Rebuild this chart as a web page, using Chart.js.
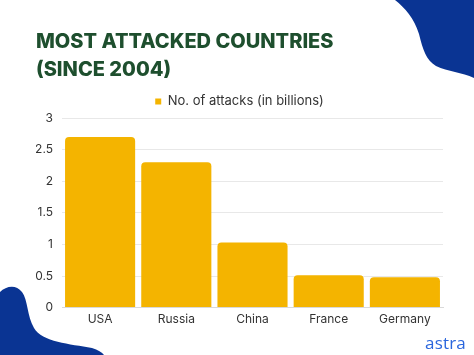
<!DOCTYPE html>
<html>
<head>
<meta charset="utf-8">
<script src="https://cdn.jsdelivr.net/npm/chart.js@4/dist/chart.umd.min.js"></script>
<style>
  html, body { margin: 0; padding: 0; background: #ffffff; }
  #wrap { position: relative; width: 474px; height: 355px; overflow: hidden; background: #fff; }
  #deco { position: absolute; left: 0; top: 0; }
  #c { position: absolute; left: 0; top: 0; }
  #logo { position: absolute; left: 425px; top: 333px; font-family: "Open Sans", sans-serif; font-size: 17px; color: #2a66dd; letter-spacing: 0.2px; line-height: 20px; }
</style>
</head>
<body>
<div id="wrap">
  <svg id="deco" width="474" height="355" viewBox="0 0 474 355">
    <path d="M395 0 C405 8 414 18 419 34 C423 50 426 60 436 66 C448 72 462 72 474 78 L474 0 Z" fill="#0a3493"/>
    <path d="M0 292 C6 286 16 284 22 292 C28 300 27 316 34 328 C42 342 70 344 92 348 C98 350 102 352 104 355 L0 355 Z" fill="#0a3493"/>
  </svg>
  <canvas id="c" width="474" height="355"></canvas>
  <div id="logo">astra</div>
</div>
<script>
const titleLines = ["MOST ATTACKED COUNTRIES", "(SINCE 2004)"];
const seriesName = "No. of attacks (in billions)";
const categories = ["USA", "Russia", "China", "France", "Germany"];
const attacks = [2.7, 2.3, 1.03, 0.51, 0.48];
const yTicks = [0, 0.5, 1, 1.5, 2, 2.5, 3];

const FONT = "Inter, 'Open Sans', sans-serif";

new Chart(document.getElementById('c'), {
  type: 'bar',
  data: {
    labels: categories,
    datasets: [{
      label: seriesName,
      data: attacks,
      backgroundColor: '#f4b400',
      borderRadius: 4,
      borderSkipped: 'start',
      categoryPercentage: 1.0,
      barPercentage: 0.92
    }]
  },
  options: {
    responsive: false,
    animation: false,
    devicePixelRatio: 1,
    layout: { padding: { left: 36, right: 31, top: 28, bottom: 23 } },
    plugins: {
      title: {
        display: true,
        text: titleLines,
        align: 'start',
        color: '#1e4f2e',
        font: { family: FONT, size: 20, weight: '800', lineHeight: 1.4 },
        padding: { top: 0, bottom: 4 }
      },
      legend: {
        display: true,
        labels: {
          boxWidth: 6, boxHeight: 6,
          color: '#333333',
          font: { family: FONT, size: 13 },
          padding: 7
        }
      },
      tooltip: { enabled: false }
    },
    scales: {
      x: {
        grid: { display: false, drawTicks: false },
        border: { display: true, color: '#d9d9d9' },
        ticks: { color: '#333333', font: { family: FONT, size: 12 }, padding: 5 }
      },
      y: {
        min: 0, max: 3,
        afterFit: (s) => { s.width = 26; },
        afterBuildTicks: (s) => { s.ticks = yTicks.map(v => ({ value: v })); },
        grid: { color: '#e8e8e8', drawTicks: false },
        border: { display: false },
        ticks: { color: '#333333', font: { family: FONT, size: 12 }, padding: 9, callback: (v) => String(v) }
      }
    }
  }
});
</script>
</body>
</html>
